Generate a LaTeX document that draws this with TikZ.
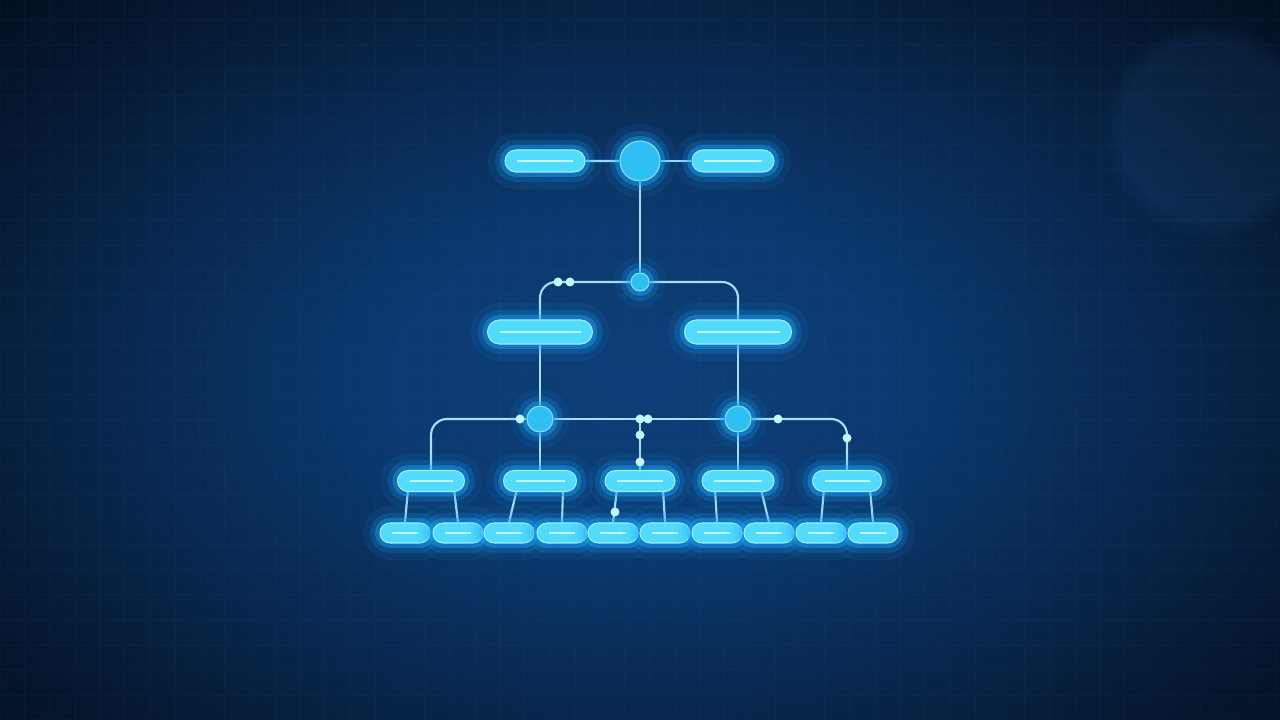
\documentclass[tikz,border=0pt]{standalone}
\usetikzlibrary{shapes.misc,positioning,calc,fadings,backgrounds}

\definecolor{bgmid}{HTML}{0C3E78}
\definecolor{bgdark}{HTML}{01050C}
\definecolor{gridblue}{HTML}{3A7CC8}
\definecolor{pillfill}{HTML}{50DBFF}
\definecolor{pillcore}{HTML}{C4F8FF}
\definecolor{glowblue}{HTML}{1AA8FF}
\definecolor{wire}{HTML}{A6E2FF}
\definecolor{hub}{HTML}{2EC0F5}

\pgfdeclareradialshading{vignette}{\pgfpoint{0bp}{0bp}}{color(0bp)=(bgmid);
  color(10bp)=(bgmid!92!bgdark); color(20bp)=(bgmid!62!bgdark); color(28bp)=(bgmid!36!bgdark);
  color(36bp)=(bgmid!14!bgdark); color(50bp)=(bgdark)}

\tikzset{
  glow/.style={preaction={draw=glowblue, line width=3.4mm, draw opacity=.08},
    preaction={draw=glowblue, line width=2mm, draw opacity=.18},
    preaction={draw=glowblue, line width=1mm, draw opacity=.4}},
  pill/.style 2 args={rounded rectangle, glow, fill=pillfill, draw=pillcore!70!pillfill,
    line width=.3pt, inner sep=0pt, minimum width=#1, minimum height=#2,
    path picture={\draw[pillcore, line width=.7pt]
      ($(path picture bounding box.west)+(1.2mm,0)$) -- ($(path picture bounding box.east)+(-1.2mm,0)$);}},
  hubdot/.style={circle, glow, fill=hub, draw=pillcore!60!hub, line width=.3pt,
    inner sep=0pt, minimum size=#1},
  tick/.style={circle, fill=pillcore, inner sep=0pt, minimum size=.9mm},
  wire/.style={draw=wire, line width=.6pt, rounded corners=1.6mm},
}

\begin{document}
\begin{tikzpicture}
  \useasboundingbox (0,0) rectangle (12.8,7.2);
  \begin{scope}[on background layer]
  \shade[shading=vignette] (0,-.6) rectangle (12.8,7.4);
  \fill[gridblue, path fading=circle with fuzzy edge 20 percent, opacity=.1] (12.1,5.9) circle (1.1);
  \draw[gridblue, step=.25, line width=.3pt, opacity=.04] (0,0) grid (12.8,7.2);
  \end{scope}

  % top row
  \node[hubdot=4mm] (root) at (6.40,5.59) {};
  \node[pill={8mm}{2.2mm}] (topl) at (5.45,5.59) {};
  \node[pill={8.2mm}{2.2mm}] (topr) at (7.33,5.59) {};
  \node[hubdot=1.8mm] (split) at (6.40,4.38) {};

  % second row
  \node[pill={10.5mm}{2.4mm}] (midl) at (5.40,3.88) {};
  \node[pill={10.7mm}{2.4mm}] (midr) at (7.38,3.88) {};
  \node[hubdot=2.6mm] (hubl) at (5.40,3.01) {};
  \node[hubdot=2.6mm] (hubr) at (7.38,3.01) {};

  % third and fourth rows
  \foreach \x/\w [count=\i] in {4.31/6.7mm,5.40/7.3mm,6.40/7mm,7.38/7.2mm,8.47/6.9mm}
    \node[pill={\w}{2.1mm}] (c\i) at (\x,2.39) {};
  \foreach \x [count=\i] in {4.05,4.58,5.09,5.62,6.13,6.65,7.17,7.69,8.21,8.73}
    \node[pill={5mm}{2mm}] (d\i) at (\x,1.87) {};

  \begin{scope}[on background layer]
  \draw[wire] (root) -- (topl);
  \draw[wire] (root) -- (topr);
  \draw[wire] (root) -- (split);
  \draw[wire] (split.west) -| (midl.north);
  \draw[wire] (split.east) -| (midr.north);
  \draw[wire] (midl) -- (hubl);
  \draw[wire] (midr) -- (hubr);
  \draw[wire] (hubl) -- (c2);
  \draw[wire] (hubr) -- (c4);
  \draw[wire] (hubl.west) -| (c1.north);
  \draw[wire] (hubr.east) -| (c5.north);
  \draw[wire] (hubl) -- (hubr);
  \draw[wire] (c3.north |- hubl) coordinate (mid) -- (c3.north);
  \foreach \i in {1,...,5} {
    \pgfmathtruncatemacro\l{2*\i-1}
    \pgfmathtruncatemacro\r{2*\i}
    \draw[wire] ($(c\i.south)+(-.23,.03)$) -- (d\l.north);
    \draw[wire] ($(c\i.south)+(.23,.03)$) -- (d\r.north);
  }
  \end{scope}

  % small beads on the lines
  \foreach \p [count=\i] in {(5.58,4.38),(5.70,4.38),(5.20,3.01),(6.40,3.01),(6.48,3.01),
      (6.40,2.85),(6.40,2.58),(7.78,3.01),(8.47,2.82),(6.15,2.08)}
    \node[tick] (t\i) at \p {};
\end{tikzpicture}
\end{document}
